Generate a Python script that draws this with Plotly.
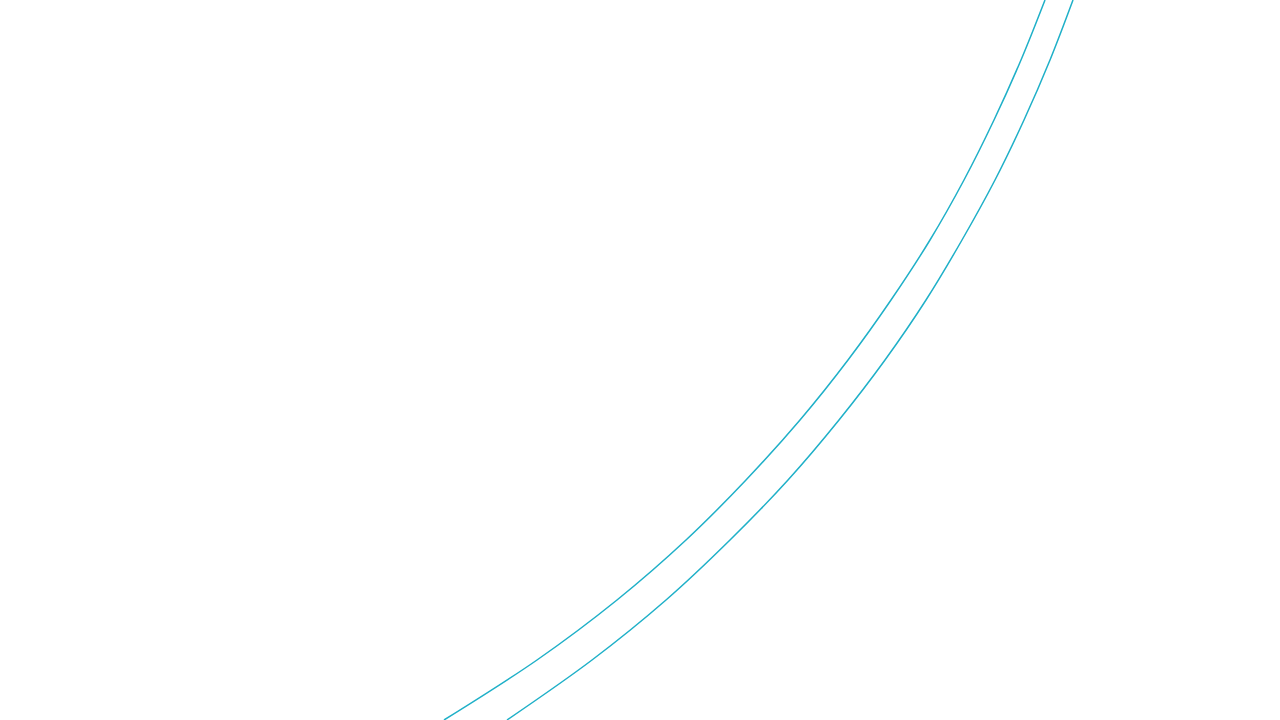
import plotly.graph_objects as go

# points (pixel coordinates, y grows downward)
inner_x = [444, 537, 617, 686, 746, 800, 848, 891, 930, 964, 994, 1021, 1045]
inner_y = [720, 660, 600, 540, 480, 420, 360, 300, 240, 180, 120, 60, 0]

outer_x = [507, 592, 666, 730, 788, 839, 885, 926, 962, 995, 1024, 1050, 1073]
outer_y = [720, 660, 600, 540, 480, 420, 360, 300, 240, 180, 120, 60, 0]

line_color = "#1fb0c8"

fig = go.Figure()
fig.add_trace(go.Scatter(x=inner_x, y=inner_y, mode="lines",
                         line=dict(color=line_color, width=1.5, shape="spline")))
fig.add_trace(go.Scatter(x=outer_x, y=outer_y, mode="lines",
                         line=dict(color=line_color, width=1.5, shape="spline")))

fig.update_layout(
    width=1280, height=720,
    margin=dict(l=0, r=0, t=0, b=0),
    paper_bgcolor="white", plot_bgcolor="white",
    showlegend=False, hovermode=False,
    xaxis=dict(range=[0, 1280], visible=False, fixedrange=True),
    yaxis=dict(range=[720, 0], visible=False, fixedrange=True),
)

# drop the page's default body margin so the plot sits at the window corner
fig.write_html("out.html", config={"displayModeBar": False},
               post_script="document.body.style.margin='0';")
